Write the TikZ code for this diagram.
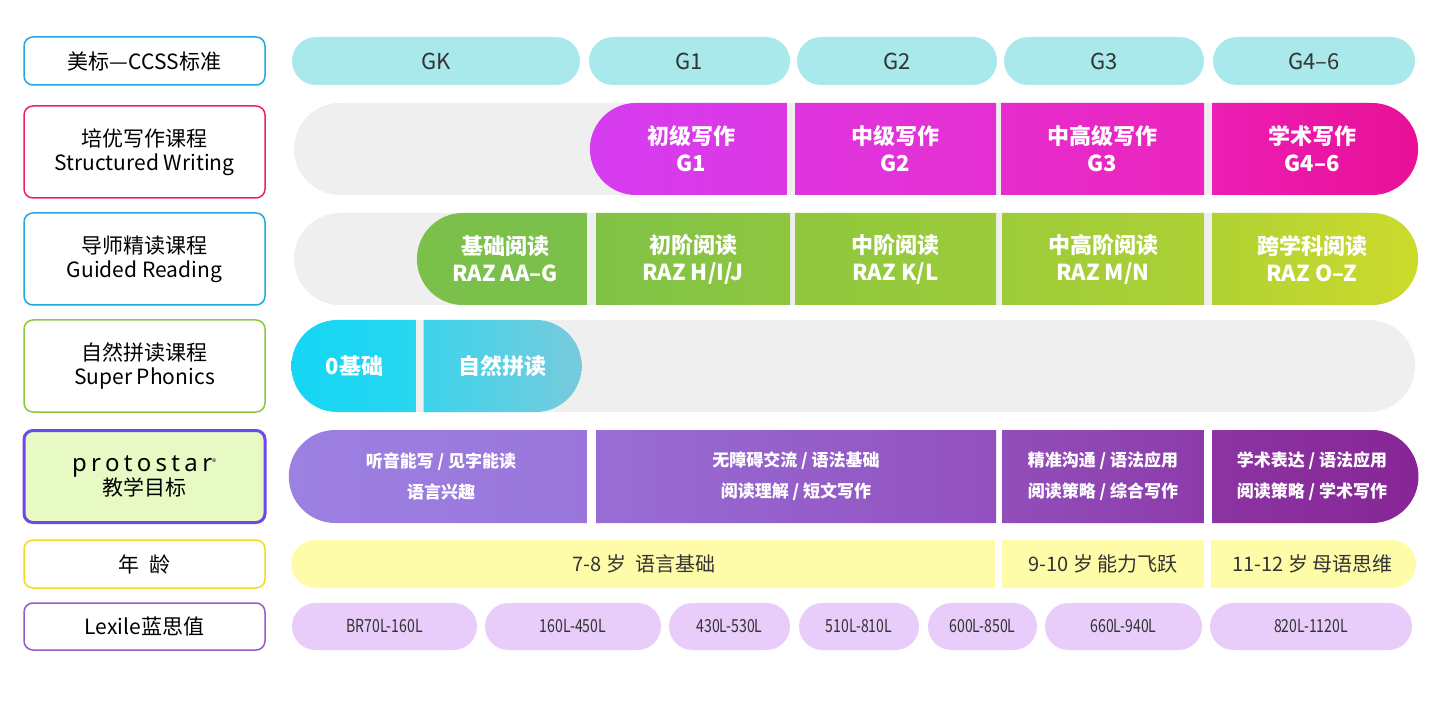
\documentclass[tikz,border=0pt]{standalone}
\usepackage{fontspec}
\setmainfont{Noto Sans CJK SC}
\newfontfamily\lexfont[FakeStretch=0.78]{Noto Sans CJK SC}
\newfontfamily\logofont[LetterSpace=18]{Noto Sans}
\usetikzlibrary{shapes.misc}
\definecolor{cyanpill}{HTML}{A9E9EC}
\definecolor{greybar}{HTML}{EFEFEF}
\definecolor{lexpill}{HTML}{E8CCF9}
\definecolor{agebar}{HTML}{FEFCA9}
\definecolor{txtdark}{HTML}{333333}
\definecolor{logoborder}{HTML}{6E46F0}
\definecolor{pinkborder}{RGB}{236,30,110}
\definecolor{greenborder}{RGB}{140,200,60}
\definecolor{yellowborder}{RGB}{240,220,30}
\definecolor{lexborder}{RGB}{150,90,200}
\definecolor{cyanborder}{RGB}{30,170,220}
\definecolor{logofill}{RGB}{232,250,196}

\begin{document}
\begin{tikzpicture}[x=1pt,y=-1pt]
  \tikzset{LabelStyle/.style = {
    shape         = rectangle,
    rounded corners = 9pt,
    draw          = #1,
    line width    = 1.5pt,
    fill          = white,
    minimum width = 241pt,
    inner sep     = 0pt,
    align         = center,
    font          = \fontsize{21}{24}\selectfont
    }
  }
  \tikzset{BarStyle/.style = {
    shape         = rounded rectangle,
    inner sep     = 0pt,
    outer sep     = 0pt,
    align         = center,
    text          = white,
    font          = \bfseries\fontsize{22}{27}\selectfont
    }
  }
  \tikzset{FlatLeft/.style = {rounded rectangle west arc=none}}
  \tikzset{FlatRight/.style = {rounded rectangle east arc=none}}
  \tikzset{FlatBoth/.style = {rounded rectangle west arc=none, rounded rectangle east arc=none}}
  \tikzset{SmallText/.style = {font=\bfseries\fontsize{17}{31}\selectfont}}
  \tikzset{GradeStyle/.style = {BarStyle, fill=cyanpill, text=txtdark, font=\fontsize{22}{26}\selectfont, minimum height=48pt}}

  \useasboundingbox (0,0) rectangle (1440,708);

  % labels on the left
  \node[LabelStyle=cyanborder, minimum height=48pt](L1) at (144.5,61) {美标—CCSS标准};
  \node[LabelStyle=pinkborder, minimum height=92pt](L2) at (144.5,152) {培优写作课程\\Structured Writing};
  \node[LabelStyle=cyanborder, minimum height=92pt](L3) at (144.5,259) {导师精读课程\\Guided Reading};
  \node[LabelStyle=greenborder, minimum height=92pt](L4) at (144.5,366) {自然拼读课程\\Super Phonics};
  \node[LabelStyle=logoborder, line width=3pt, fill=logofill, minimum height=92pt](L5) at (144.5,476.5)
    {{\logofont\fontsize{24}{28}\selectfont protostar\textsuperscript{\tiny ®}}\\教学目标};
  \node[LabelStyle=yellowborder, minimum height=48pt](L6) at (144.5,564) {年\ \ 龄};
  \node[LabelStyle=lexborder, minimum height=47pt](L7) at (144.5,626.5) {Lexile蓝思值};

  % grades
  \node[GradeStyle, minimum width=288pt](GK) at (436,61) {GK};
  \node[GradeStyle, minimum width=201pt](G1) at (689.5,61) {G1};
  \node[GradeStyle, minimum width=200pt](G2) at (897,61) {G2};
  \node[GradeStyle, minimum width=200pt](G3) at (1104,61) {G3};
  \node[GradeStyle, minimum width=202pt](G46) at (1314,61) {G4–6};

  % writing
  \node[BarStyle, fill=greybar, minimum width=1121pt, minimum height=92pt](W0) at (854.5,149) {};
  \node[BarStyle, FlatRight, left color={rgb,255:red,214;green,60;blue,240}, right color={rgb,255:red,220;green,56;blue,228}, minimum width=197pt, minimum height=92pt](W1) at (691.5,149) {初级写作\\G1};
  \node[BarStyle, FlatBoth, left color={rgb,255:red,224;green,52;blue,222}, right color={rgb,255:red,228;green,48;blue,210}, minimum width=201pt, minimum height=92pt](W2) at (895.5,149) {中级写作\\G2};
  \node[BarStyle, FlatBoth, left color={rgb,255:red,230;green,44;blue,205}, right color={rgb,255:red,234;green,36;blue,188}, minimum width=203pt, minimum height=92pt](W3) at (1102.5,149) {中高级写作\\G3};
  \node[BarStyle, FlatLeft, left color={rgb,255:red,236;green,30;blue,180}, right color={rgb,255:red,232;green,16;blue,150}, minimum width=206pt, minimum height=92pt](W4) at (1312,149) {学术写作\\G4–6};

  % reading
  \node[BarStyle, fill=greybar, minimum width=1121pt, minimum height=92pt](R0) at (854.5,259) {};
  \node[BarStyle, FlatRight, fill={rgb,255:red,122;green,192;blue,74}, minimum width=170pt, minimum height=92pt](R1) at (505,259) {基础阅读\\RAZ AA–G};
  \node[BarStyle, FlatBoth, left color={rgb,255:red,128;green,194;blue,70}, right color={rgb,255:red,142;green,198;blue,64}, minimum width=194pt, minimum height=92pt](R2) at (693,259) {初阶阅读\\RAZ H/I/J};
  \node[BarStyle, FlatBoth, left color={rgb,255:red,144;green,199;blue,62}, right color={rgb,255:red,156;green,203;blue,58}, minimum width=201pt, minimum height=92pt](R3) at (895.5,259) {中阶阅读\\RAZ K/L};
  \node[BarStyle, FlatBoth, left color={rgb,255:red,158;green,204;blue,57}, right color={rgb,255:red,172;green,208;blue,53}, minimum width=202pt, minimum height=92pt](R4) at (1103,259) {中高阶阅读\\RAZ M/N};
  \node[BarStyle, FlatLeft, left color={rgb,255:red,176;green,210;blue,52}, right color={rgb,255:red,205;green,218;blue,44}, minimum width=206pt, minimum height=92pt](R5) at (1312,259) {跨学科阅读\\RAZ O–Z};

  % phonics
  \node[BarStyle, fill=greybar, minimum width=1123pt, minimum height=92pt](P0) at (853.5,366) {};
  \node[BarStyle, FlatRight, left color={rgb,255:red,20;green,214;blue,244}, right color={rgb,255:red,40;green,214;blue,240}, minimum width=125pt, minimum height=92pt](P1) at (354.5,366) {0基础};
  \node[BarStyle, FlatLeft, left color={rgb,255:red,60;green,212;blue,236}, right color={rgb,255:red,120;green,202;blue,220}, minimum width=158pt, minimum height=92pt](P2) at (502,366) {自然拼读};

  % goals
  \node[BarStyle, FlatRight, SmallText, left color={rgb,255:red,156;green,128;blue,226}, right color={rgb,255:red,154;green,118;blue,218}, minimum width=298pt, minimum height=93pt](T1) at (441,476.5) {听音能写 / 见字能读\\语言兴趣};
  \node[BarStyle, FlatBoth, SmallText, left color={rgb,255:red,152;green,110;blue,212}, right color={rgb,255:red,146;green,80;blue,190}, minimum width=400pt, minimum height=93pt](T2) at (796,476.5) {无障碍交流 / 语法基础\\阅读理解 / 短文写作};
  \node[BarStyle, FlatBoth, SmallText, left color={rgb,255:red,146;green,78;blue,186}, right color={rgb,255:red,140;green,60;blue,170}, minimum width=202pt, minimum height=93pt](T3) at (1103,476.5) {精准沟通 / 语法应用\\阅读策略 / 综合写作};
  \node[BarStyle, FlatLeft, SmallText, left color={rgb,255:red,140;green,52;blue,162}, right color={rgb,255:red,135;green,38;blue,150}, minimum width=206pt, minimum height=93pt](T4) at (1312,476.5) {学术表达 / 语法应用\\阅读策略 / 学术写作};

  % ages
  \tikzset{AgeStyle/.style = {BarStyle, fill=agebar, text=txtdark, font=\fontsize{20}{22}\selectfont, minimum height=48pt}}
  \node[AgeStyle, FlatRight, minimum width=704pt](A1) at (644,564) {7-8 岁\ \ 语言基础};
  \node[AgeStyle, FlatBoth, minimum width=202pt](A2) at (1103,564) {9-10 岁 能力飞跃};
  \node[AgeStyle, FlatLeft, minimum width=205pt](A3) at (1312.5,564) {11-12 岁 母语思维};

  % lexile
  \tikzset{LexStyle/.style = {BarStyle, fill=lexpill, text=txtdark, font=\lexfont\fontsize{18}{20}\selectfont, minimum height=47pt}}
  \node[LexStyle, minimum width=185pt](X1) at (384.5,626.5) {BR70L-160L};
  \node[LexStyle, minimum width=176pt](X2) at (573,626.5) {160L-450L};
  \node[LexStyle, minimum width=121pt](X3) at (729.5,626.5) {430L-530L};
  \node[LexStyle, minimum width=120pt](X4) at (859,626.5) {510L-810L};
  \node[LexStyle, minimum width=109pt](X5) at (982.5,626.5) {600L-850L};
  \node[LexStyle, minimum width=157pt](X6) at (1123.5,626.5) {660L-940L};
  \node[LexStyle, minimum width=202pt](X7) at (1311,626.5) {820L-1120L};
\end{tikzpicture}
\end{document}
